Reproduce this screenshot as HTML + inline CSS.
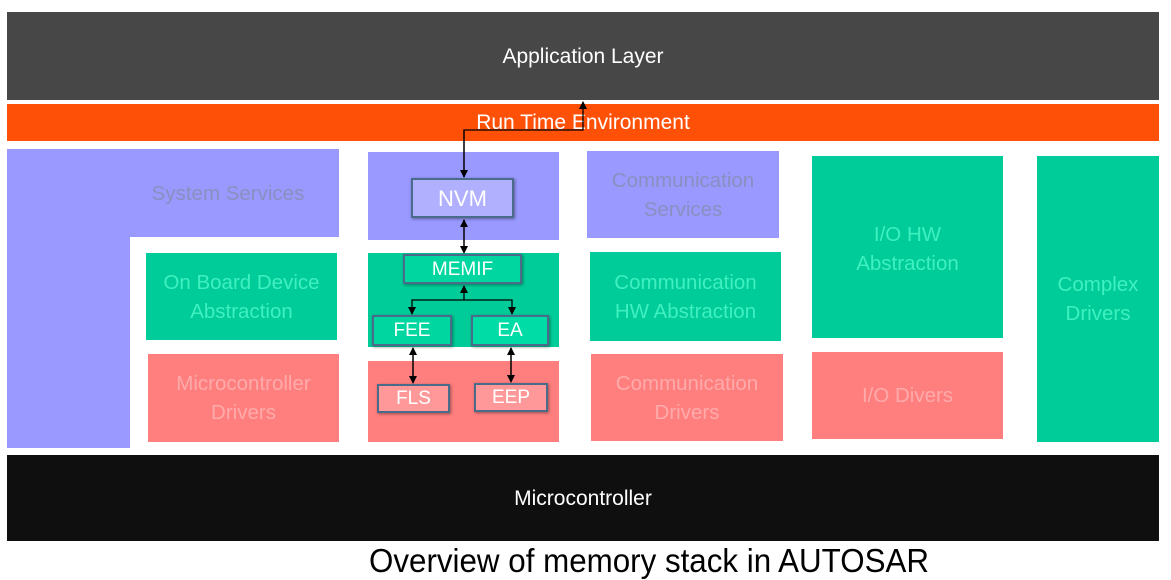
<!DOCTYPE html>
<html><head><meta charset="utf-8"><style>
body{margin:0;width:1171px;height:580px;background:#fff;position:relative;overflow:hidden;font-family:"Liberation Sans","DejaVu Sans",sans-serif}
.b{position:absolute;display:flex;align-items:center;justify-content:center;text-align:center;font-size:20.5px;line-height:29px;box-sizing:border-box}
.p{background:#9999ff;color:#8a8fc0}
.g{background:#00cc99;color:#3ff0c0}
.r{background:#ff7f7f;color:#ffaaaa}
.s{border:2px solid #4a6b8a;color:#fff;box-shadow:1px 1px 3px rgba(0,0,0,.4);font-size:19px}
</style></head><body>
<div class="b" style="left:7px;top:12px;width:1152px;height:88px;background:#474747;color:#fff;font-size:21px">Application Layer</div>
<div class="b" style="left:7px;top:104px;width:1152px;height:37px;background:#ff5008;color:#fff;font-size:21px">Run Time Environment</div>
<div class="b p" style="left:7px;top:149px;width:332px;height:88px;padding-left:110px">System Services</div>
<div class="b p" style="left:7px;top:149px;width:123px;height:299px"></div>
<div class="b g" style="left:146px;top:253px;width:191px;height:87px">On Board Device<br>Abstraction</div>
<div class="b r" style="left:148px;top:354px;width:191px;height:88px">Microcontroller<br>Drivers</div>
<div class="b p" style="left:368px;top:152px;width:191px;height:88px"></div>
<div class="b g" style="left:368px;top:253px;width:191px;height:94px"></div>
<div class="b r" style="left:368px;top:361px;width:191px;height:81px"></div>
<div class="b s" style="left:411px;top:178px;width:103px;height:40px;background:#b0b0ff;font-size:22px">NVM</div>
<div class="b s" style="left:403px;top:254px;width:119px;height:30px;background:#00d6a0">MEMIF</div>
<div class="b s" style="left:372px;top:315px;width:80px;height:31px;background:#00d6a0">FEE</div>
<div class="b s" style="left:471px;top:315px;width:78px;height:31px;background:#00dca6">EA</div>
<div class="b s" style="left:377px;top:384px;width:73px;height:29px;background:#ff9999">FLS</div>
<div class="b s" style="left:474px;top:383px;width:74px;height:29px;background:#ff9999">EEP</div>
<div class="b p" style="left:587px;top:151px;width:192px;height:87px">Communication<br>Services</div>
<div class="b g" style="left:590px;top:252px;width:191px;height:89px">Communication<br>HW Abstraction</div>
<div class="b r" style="left:591px;top:354px;width:192px;height:87px">Communication<br>Drivers</div>
<div class="b g" style="left:812px;top:156px;width:191px;height:182px;align-items:flex-start;padding-top:64px">I/O HW<br>Abstraction</div>
<div class="b r" style="left:812px;top:352px;width:191px;height:87px">I/O Divers</div>
<div class="b g" style="left:1037px;top:156px;width:122px;height:286px">Complex<br>Drivers</div>
<div class="b" style="left:7px;top:455px;width:1152px;height:86px;background:#0f0f0f;color:#fff;font-size:21px">Microcontroller</div>
<svg width="1171" height="580" style="position:absolute;left:0;top:0">
<defs><marker id="a" markerWidth="8" markerHeight="8" refX="7" refY="4" orient="auto" markerUnits="userSpaceOnUse"><path d="M0,0L8,4L0,8Z" fill="#000"/></marker></defs>
<g stroke="#000" stroke-width="1.3" fill="none">
<path d="M464,177V130H583V102" marker-end="url(#a)" />
<path d="M464,130V177" marker-end="url(#a)" />
<path d="M464,220V253" marker-end="url(#a)"/><path d="M464,252V220" marker-end="url(#a)"/>
<path d="M464,300V286" marker-end="url(#a)"/>
<path d="M464,300H412V314" marker-end="url(#a)"/>
<path d="M464,300H512V314" marker-end="url(#a)"/>
<path d="M413,348V383" marker-end="url(#a)"/><path d="M413,382V348" marker-end="url(#a)"/>
<path d="M511,348V382" marker-end="url(#a)"/><path d="M511,381V348" marker-end="url(#a)"/>
</g>
<text x="369" y="572" font-size="33" textLength="560" lengthAdjust="spacingAndGlyphs" font-family="Liberation Sans, sans-serif" fill="#000">Overview of memory stack in AUTOSAR</text>
</svg>
</body></html>
